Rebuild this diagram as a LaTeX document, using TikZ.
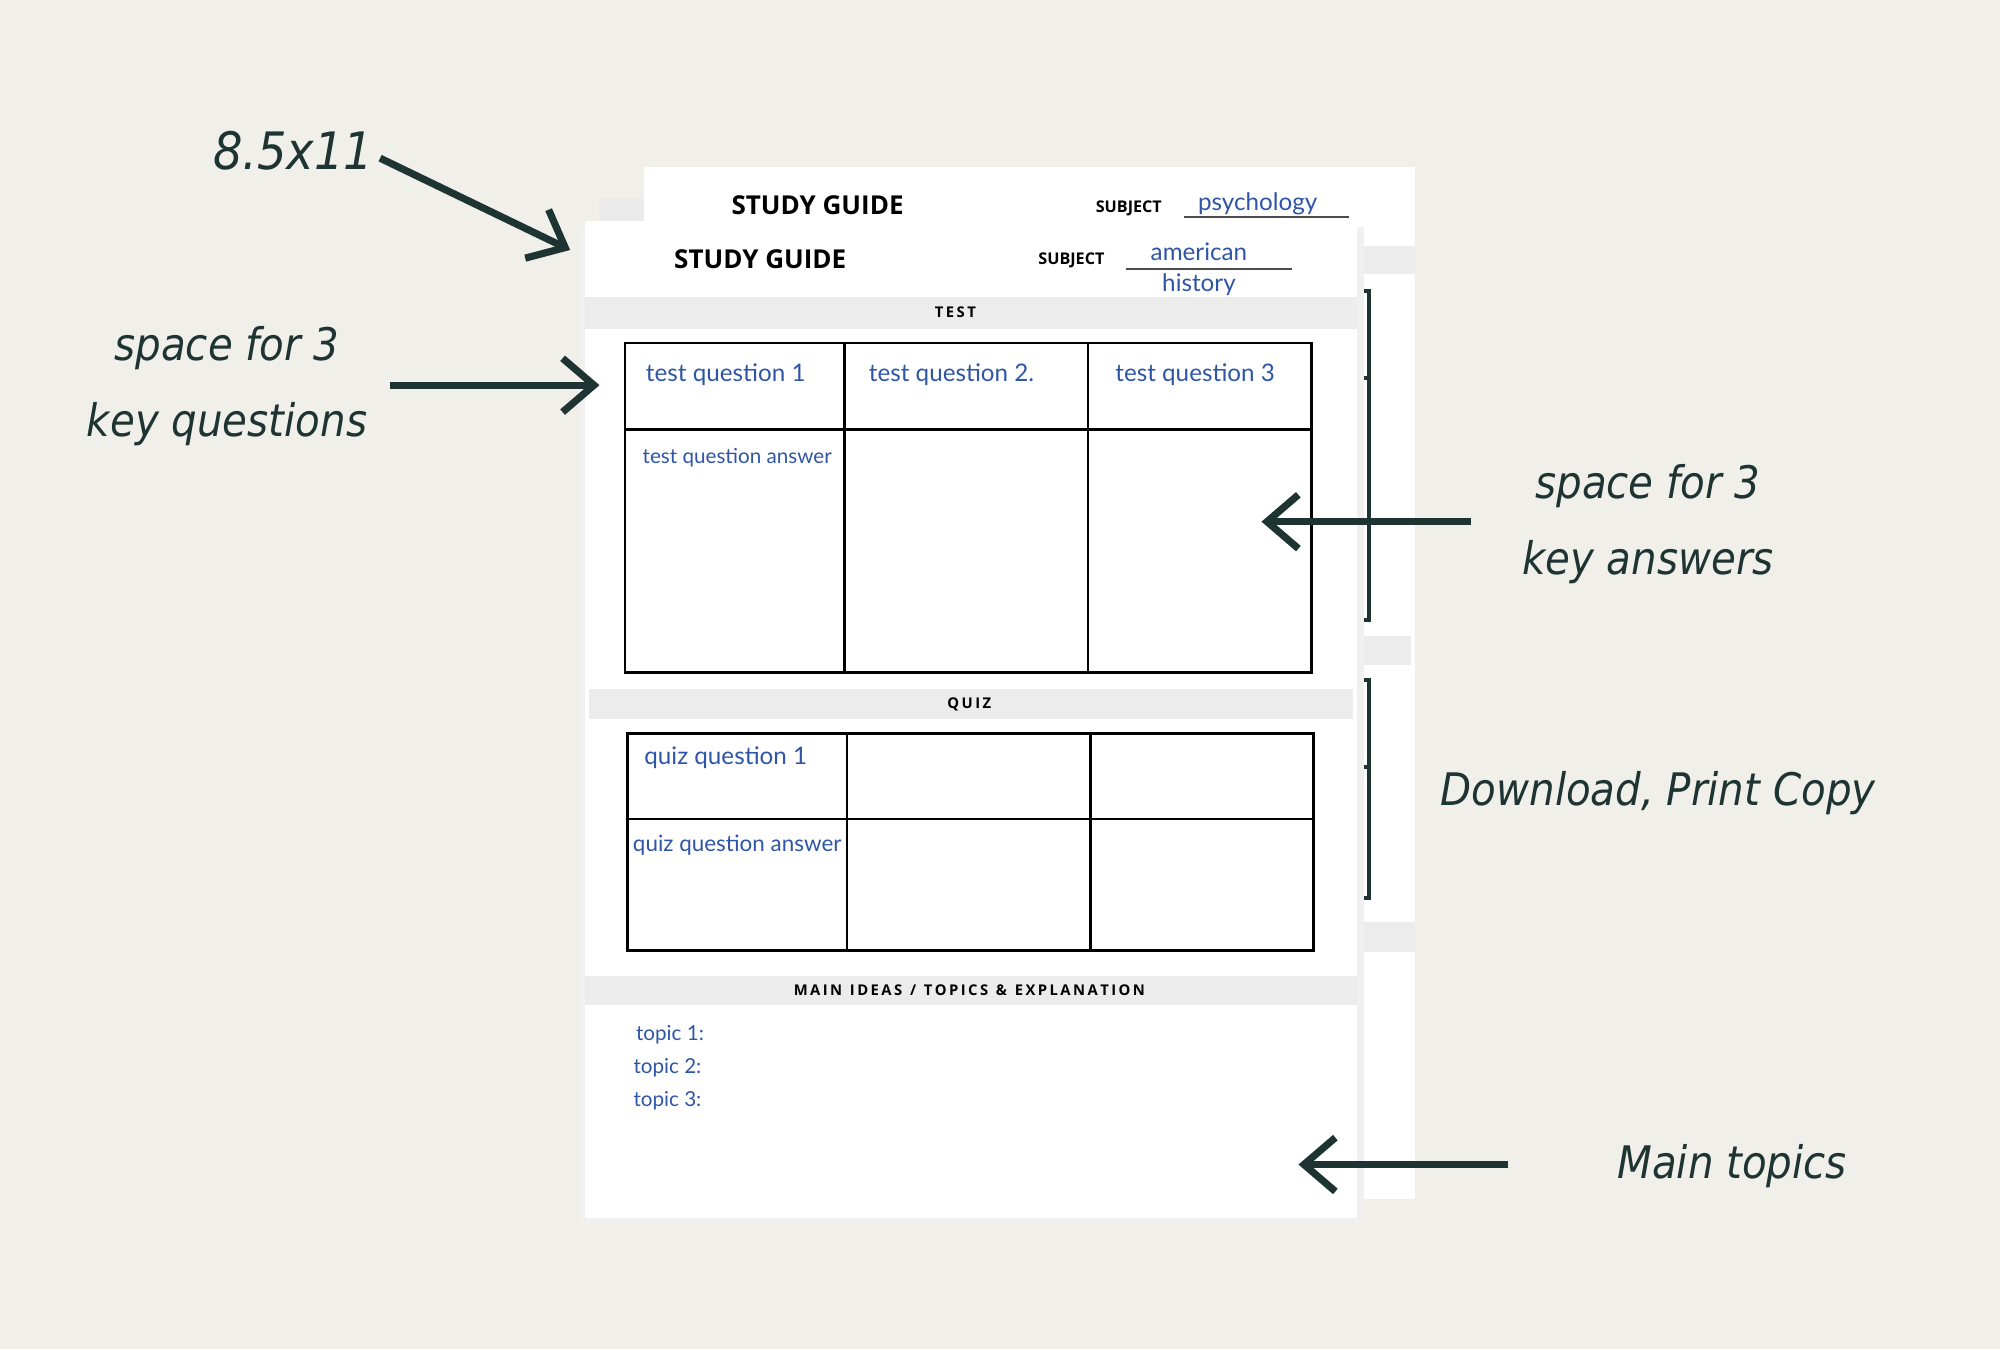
\documentclass[tikz,border=0pt]{standalone}
\usepackage{fontspec}
\setmainfont{Open Sans}
\newfontfamily\hand{DejaVu Sans Condensed}
\newfontfamily\blu{Lato}
\usetikzlibrary{arrows.meta}
\definecolor{bg}{HTML}{F1EFEA}
\definecolor{ink}{HTML}{1E3432}
\definecolor{bl}{HTML}{2F56A6}
\definecolor{band}{HTML}{ECECEC}
\begin{document}
\begin{tikzpicture}[x=0.01cm,y=-0.01cm,
 ann/.style={text=ink,font=\hand\itshape\fontsize{10}{17}\selectfont,align=center},
 arr/.style={draw=ink,line width=1.6pt,-{Straight Barb[length=7pt,width=12pt]}},
 blue/.style={text=bl,font=\blu\fontsize{5.4}{7}\selectfont},
 bluesm/.style={text=bl,font=\blu\fontsize{4.6}{6}\selectfont},
 head/.style={font=\bfseries\fontsize{5.8}{7}\selectfont},
 subj/.style={font=\bfseries\fontsize{3.6}{5}\selectfont},
 bandtxt/.style={font=\bfseries\fontsize{3.3}{4}\selectfont},
 grid/.style={draw=black,line width=0.6pt}]
\fill[bg] (0,0) rectangle (1568,1058);
\useasboundingbox (0,0) rectangle (1568,1058);
% back page
\fill[black!8] (470,155) rectangle (505,180);
\fill[white] (505,131) rectangle (1109,940);
\fill[band] (1064,193) rectangle (1109,215);
\fill[band] (1064,499) rectangle (1106,521);
\fill[band] (1064,723) rectangle (1109,746);
\draw[ink,line width=0.9pt] (1064,228)--(1073,228)--(1073,486)--(1064,486) (1064,296)--(1073,296);
\draw[ink,line width=0.9pt] (1064,533)--(1073,533)--(1073,704)--(1064,704) (1064,601)--(1073,601);
\node[head] (bsg) at (641,161) {STUDY GUIDE};
\node[subj] (bsub) at (885,163) {SUBJECT};
\node[blue] (bpsy) at (986,160) {psychology};
\draw[black!70,line width=0.5pt] (928,170)--(1058,170);
% front page
\fill[black!6] (454,178) rectangle (1069,960);
\fill[white] (459,173) rectangle (1064,955);
\node[head] (sg) at (596,203) {STUDY GUIDE};
\node[subj] (sub) at (840,204) {SUBJECT};
\node[blue] (am) at (940,197) {american};
\node[blue] (hi) at (940,223) {history};
\draw[black!70,line width=0.5pt] (883,211)--(1013,211);
\fill[band] (459,233) rectangle (1064,258);
\node[bandtxt] (tt) at (749,245) {T\,E\,S\,T};
\draw[grid] (490,269) rectangle (1028,527) (662,269)--(662,527) (853,269)--(853,527) (490,337)--(1028,337);
\node[blue] (q1) at (569,294) {test question 1};
\node[blue] (q2) at (746,294) {test question 2.};
\node[blue] (q3) at (937,294) {test question 3};
\node[bluesm] (qa) at (578,359) {test question answer};
\fill[band] (462,540) rectangle (1061,564);
\node[bandtxt] (qz) at (760,552) {Q\,U\,I\,Z};
\draw[grid] (492,575) rectangle (1030,745) (664,575)--(664,745) (855,575)--(855,745) (492,642)--(1030,642);
\node[blue] (z1) at (569,594) {quiz question 1};
\node[bluesm,font=\blu\fontsize{5}{6}\selectfont] (za) at (578,663) {quiz question answer};
\fill[band] (459,765) rectangle (1064,788);
\node[bandtxt] (mi) at (760,776) {M\,A\,I\,N\ \ I\,D\,E\,A\,S\ \ /\ \ T\,O\,P\,I\,C\,S\ \ \&\ \ E\,X\,P\,L\,A\,N\,A\,T\,I\,O\,N};
\node[bluesm,anchor=west,inner sep=0] (t1) at (498,811) {topic 1:};
\node[bluesm,anchor=west,inner sep=0] (t2) at (496,837) {topic 2:};
\node[bluesm,anchor=west,inner sep=0] (t3) at (496,863) {topic 3:};
% annotations
\node[ann,font=\hand\itshape\fontsize{11.5}{14}\selectfont] (a1) at (230,118) {8.5x11};
\coordinate (a1e) at (447,196);
\draw[arr] (298,124) -- (a1e);
\node[ann] (a2) at (178,303) {space for 3\\key questions};
\coordinate (a2e) at (470,302);
\draw[arr] (306,302) -- (a2e);
\node[ann] (a3) at (1292,411) {space for 3\\key answers};
\coordinate (a3s) at (1153,409); \coordinate (a3e) at (989,409);
\draw[arr] (a3s) -- (a3e);
\node[ann] (a4) at (1300,622) {Download, Print Copy};
\node[ann] (a5) at (1358,914) {Main topics};
\coordinate (a5s) at (1182,913); \coordinate (a5e) at (1018,913);
\draw[arr] (a5s) -- (a5e);
\end{tikzpicture}
\end{document}
